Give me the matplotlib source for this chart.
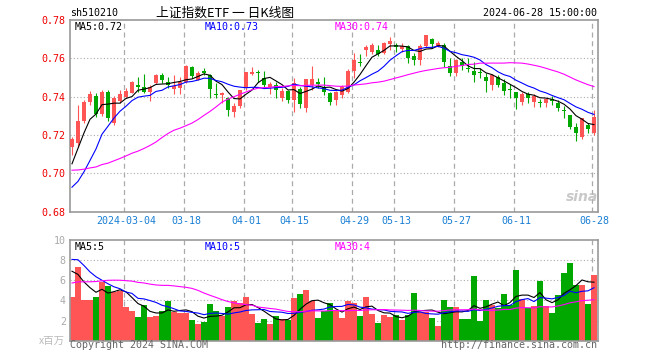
import matplotlib
matplotlib.use("Agg")
import matplotlib.pyplot as plt
import numpy as np
import pandas as pd

# ------------------------- Data -------------------------

holidays = ['2024-04-04', '2024-04-05', '2024-05-01', '2024-05-02', '2024-05-03', '2024-06-10']
dates = pd.bdate_range('2024-02-20', '2024-06-28')
dates = dates[~dates.isin(pd.to_datetime(holidays))]

open_ = [0.7139, 0.7157, 0.7271, 0.7370, 0.7405, 0.7310, 0.7424, 0.7261, 0.7379, 0.7397,
         0.7421, 0.7461, 0.7449, 0.7426, 0.7470, 0.7515, 0.7475, 0.7440, 0.7443, 0.7478,
         0.7553, 0.7487, 0.7536, 0.7513, 0.7414, 0.7409, 0.7394, 0.7322, 0.7351, 0.7443,
         0.7520, 0.7527, 0.7495, 0.7452, 0.7461, 0.7395, 0.7430, 0.7383, 0.7438, 0.7339,
         0.7461, 0.7475, 0.7449, 0.7421, 0.7383, 0.7409, 0.7426, 0.7534, 0.7581, 0.7643,
         0.7635, 0.7643, 0.7630, 0.7675, 0.7670, 0.7649, 0.7664, 0.7612, 0.7591, 0.7664,
         0.7699, 0.7664, 0.7670, 0.7560, 0.7525, 0.7579, 0.7549, 0.7535, 0.7525, 0.7504,
         0.7461, 0.7504, 0.7473, 0.7438, 0.7423, 0.7374, 0.7412, 0.7374, 0.7374, 0.7365,
         0.7386, 0.7365, 0.7330, 0.7304, 0.7243, 0.7191, 0.7252, 0.7212]
high = [0.7191, 0.7357, 0.7383, 0.7430, 0.7417, 0.7432, 0.7435, 0.7403, 0.7435, 0.7443,
        0.7482, 0.7504, 0.7517, 0.7460, 0.7518, 0.7525, 0.7504, 0.7513, 0.7500, 0.7565,
        0.7562, 0.7533, 0.7551, 0.7517, 0.7470, 0.7426, 0.7400, 0.7365, 0.7435, 0.7530,
        0.7556, 0.7537, 0.7534, 0.7478, 0.7478, 0.7443, 0.7435, 0.7499, 0.7449, 0.7490,
        0.7560, 0.7499, 0.7501, 0.7426, 0.7430, 0.7461, 0.7545, 0.7626, 0.7623, 0.7670,
        0.7682, 0.7670, 0.7687, 0.7713, 0.7682, 0.7682, 0.7668, 0.7630, 0.7673, 0.7722,
        0.7704, 0.7690, 0.7678, 0.7600, 0.7595, 0.7600, 0.7600, 0.7579, 0.7548, 0.7525,
        0.7517, 0.7513, 0.7490, 0.7466, 0.7426, 0.7426, 0.7426, 0.7412, 0.7386, 0.7391,
        0.7403, 0.7383, 0.7351, 0.7304, 0.7261, 0.7287, 0.7264, 0.7330]
low = [0.7096, 0.7139, 0.7261, 0.7357, 0.7296, 0.7300, 0.7270, 0.7252, 0.7369, 0.7391,
       0.7417, 0.7426, 0.7417, 0.7379, 0.7465, 0.7470, 0.7443, 0.7414, 0.7412, 0.7473,
       0.7499, 0.7485, 0.7513, 0.7391, 0.7391, 0.7369, 0.7300, 0.7292, 0.7339, 0.7435,
       0.7513, 0.7476, 0.7452, 0.7412, 0.7391, 0.7379, 0.7369, 0.7317, 0.7339, 0.7317,
       0.7435, 0.7443, 0.7409, 0.7357, 0.7357, 0.7391, 0.7420, 0.7496, 0.7560, 0.7612,
       0.7624, 0.7612, 0.7624, 0.7643, 0.7635, 0.7635, 0.7574, 0.7565, 0.7565, 0.7657,
       0.7652, 0.7657, 0.7557, 0.7508, 0.7508, 0.7540, 0.7530, 0.7478, 0.7496, 0.7426,
       0.7435, 0.7449, 0.7409, 0.7391, 0.7334, 0.7357, 0.7369, 0.7348, 0.7348, 0.7348,
       0.7357, 0.7327, 0.7290, 0.7229, 0.7170, 0.7177, 0.7209, 0.7197]
close = [0.7179, 0.7273, 0.7370, 0.7414, 0.7308, 0.7425, 0.7287, 0.7395, 0.7414, 0.7430,
         0.7475, 0.7452, 0.7424, 0.7452, 0.7515, 0.7485, 0.7461, 0.7456, 0.7478, 0.7560,
         0.7506, 0.7525, 0.7524, 0.7442, 0.7406, 0.7417, 0.7332, 0.7352, 0.7432, 0.7528,
         0.7526, 0.7522, 0.7462, 0.7464, 0.7435, 0.7430, 0.7383, 0.7470, 0.7362, 0.7490,
         0.7490, 0.7468, 0.7426, 0.7374, 0.7426, 0.7449, 0.7536, 0.7591, 0.7574, 0.7657,
         0.7670, 0.7623, 0.7682, 0.7690, 0.7660, 0.7664, 0.7600, 0.7591, 0.7664, 0.7722,
         0.7675, 0.7678, 0.7583, 0.7525, 0.7591, 0.7560, 0.7544, 0.7513, 0.7522, 0.7482,
         0.7513, 0.7461, 0.7431, 0.7435, 0.7395, 0.7412, 0.7391, 0.7403, 0.7369, 0.7386,
         0.7379, 0.7343, 0.7325, 0.7243, 0.7212, 0.7287, 0.7231, 0.7296]
volume = [4.3, 7.3, 4.07, 4.07, 4.3, 5.8, 5.4, 4.8, 4.97, 3.3,
          2.97, 2.4, 3.5, 2.4, 2.5, 2.97, 3.9, 2.83, 2.8, 2.8,
          2.07, 1.67, 1.9, 3.67, 2.9, 2.5, 3.3, 3.97, 3.73, 4.3,
          2.67, 1.8, 2.17, 1.67, 2.5, 2.17, 2.03, 4.2, 4.67, 5.07,
          3.9, 2.3, 2.9, 3.73, 2.97, 2.3, 3.97, 3.73, 2.5, 4.3,
          2.67, 1.8, 2.57, 2.37, 2.57, 2.07, 2.57, 4.77, 2.83, 2.83,
          2.23, 1.5, 4.03, 3.3, 3.3, 2.17, 2.17, 6.47, 1.97, 4.03,
          3.5, 3.23, 4.67, 3.5, 7.07, 4.17, 3.23, 3.47, 5.97, 3.47,
          2.77, 4.57, 6.77, 7.67, 5.57, 5.57, 3.67, 6.57]

# sessions before 02-20 (not drawn), only feed the moving averages
hist_close = [0.7236, 0.7248, 0.7218, 0.7154, 0.7051, 0.7066, 0.7026, 0.7048, 0.7036, 0.7048,
              0.7126, 0.7007, 0.6978, 0.6975, 0.6788, 0.6823, 0.6946, 0.7158, 0.7167, 0.7101,
              0.6970, 0.6869, 0.6825, 0.6706, 0.6655, 0.6869, 0.6968, 0.7059, 0.7170]
hist_volume = [3.8, 4.1, 3.9, 3.6, 3.5, 4.0, 4.4, 5.2, 4.6, 4.3,
               6.1, 5.3, 5.8, 5.0, 4.2, 3.9, 4.4, 5.0, 4.8, 5.3,
               7.6, 9.8, 10.4, 9.1, 9.3, 8.9, 7.8, 6.9, 6.6]

tick_dates = ['2024-03-04', '2024-03-18', '2024-04-01', '2024-04-15', '2024-04-29',
              '2024-05-13', '2024-05-27', '2024-06-11', '2024-06-28']
tick_labels = ['2024-03-04', '03-18', '04-01', '04-15', '04-29', '05-13', '05-27', '06-11', '06-28']

price_ticks = [0.68, 0.70, 0.72, 0.74, 0.76, 0.78]
vol_ticks = [2, 4, 6, 8, 10]

# ------------------------- Moving averages -------------------------

def moving(hist, vals, n):
    s = pd.Series(hist + vals).rolling(n).mean().values
    return s[len(hist):]

ma_p = {n: moving(hist_close, close, n) for n in (5, 10, 30)}
ma_v = {n: moving(hist_volume, volume, n) for n in (5, 10, 30)}

# ------------------------- Plot -------------------------

RED = '#ff5555'
GREEN = '#00a800'
GRID = '#aaaaaa'
FRAME = '#999999'
MONO = 'DejaVu Sans Mono'
CJK = ['Noto Sans CJK SC', 'DejaVu Sans']
MA_COL = {5: 'black', 10: '#0000ff', 30: '#ff00ff'}

o = np.array(open_)
c = np.array(close)
x = np.arange(len(close))
up = c >= o
cols = np.where(up, RED, GREEN)

fig = plt.figure(figsize=(6.6, 3.6), dpi=100)
ax = fig.add_axes([70 / 660, 1 - 211.5 / 360, 528 / 660, 191.5 / 360])
axv = fig.add_axes([70 / 660, 1 - 340.7 / 360, 528 / 660, 100.7 / 360])

tick_pos = [dates.get_loc(pd.Timestamp(d)) for d in tick_dates]

for a in (ax, axv):
    a.set_xlim(-0.33, len(close) - 0.33)
    for s in a.spines.values():
        s.set_color(FRAME)
        s.set_linewidth(1.2)
    for p in tick_pos:
        a.axvline(p - 0.3, color=GRID, lw=0.9, dashes=(4, 3), zorder=0)
    a.tick_params(length=0)

# candles
body_lo = np.minimum(o, c)
body_h = np.maximum(np.abs(c - o), 0.0004)
ax.vlines(x, low, high, colors=cols, lw=0.8, zorder=2)
ax.bar(x, body_h, bottom=body_lo, width=0.82, color=cols, linewidth=0, zorder=3)
for n in (5, 10, 30):
    ax.plot(x, ma_p[n], color=MA_COL[n], lw=0.8, zorder=4)

ax.set_ylim(0.68, 0.78)
for v in price_ticks[1:-1]:
    ax.axhline(v, color=GRID, lw=0.8, dashes=(1, 2), zorder=0)
ax.set_yticks(price_ticks)
ax.set_yticklabels([f"{v:.2f}" for v in price_ticks], color='#ee0000', family=MONO, fontsize=7.2)
ax.set_xticks(tick_pos)
ax.set_xticklabels(tick_labels, color='#1a7fd4', family=MONO, fontsize=7.2)
ax.tick_params(axis='y', pad=3)
ax.tick_params(axis='x', pad=3)

# volume
axv.bar(x, volume, width=0.85, color=cols, linewidth=0, zorder=2)
for n in (5, 10, 30):
    axv.plot(x, ma_v[n], color=MA_COL[n], lw=0.8, zorder=4)
axv.set_ylim(0, 10)
for v in vol_ticks[:-1]:
    axv.axhline(v, color=GRID, lw=0.8, dashes=(1, 2), zorder=0)
axv.set_yticks(vol_ticks)
axv.set_yticklabels([str(v) for v in vol_ticks], color='#aaaaaa', family=MONO, fontsize=7.2)
axv.set_xticks([])
axv.tick_params(axis='y', pad=3)

# ------------------------- Texts -------------------------

def trunc(v, d):
    return np.floor(v * 10 ** d) / 10 ** d

def px(xp, yp, s, **kw):
    fig.text(xp / 660, 1 - yp / 360, s, **kw)

for n, xp in ((5, 75), (10, 205), (30, 335)):
    px(xp, 22, f"MA{n}:{trunc(ma_p[n][-1], 2):.2f}", color=MA_COL[n], family=MONO, fontsize=7.2, va='top')
    px(xp, 242, f"MA{n}:{int(trunc(ma_v[n][-1], 0))}", color=MA_COL[n], family=MONO, fontsize=7.2, va='top')

px(70, 13.5, "sh510210", family=MONO, fontsize=7.2, va='center')
px(225, 13.5, "上证指数ETF 一 日K线图", family=CJK, fontsize=9.2, ha='center', va='center')
px(597, 13.5, "2024-06-28 15:00:00", family=MONO, fontsize=7.2, ha='right', va='center')
px(65, 340.5, "x百万", family=CJK, fontsize=7.5, color='#bbbbbb', ha='right', va='center')
px(70, 345.5, "Copyright 2024 SINA.COM", family=MONO, fontsize=7.2, color='#666666', va='center')
px(597, 345.5, "http://finance.sina.com.cn", family=MONO, fontsize=7.2, color='#666666',
   ha='right', va='center')
px(582, 197, "sina", fontsize=10, style='italic', weight='bold', color='#bbbbbb',
   alpha=0.8, ha='center', va='center')

fig.savefig("out.png", dpi=100)
